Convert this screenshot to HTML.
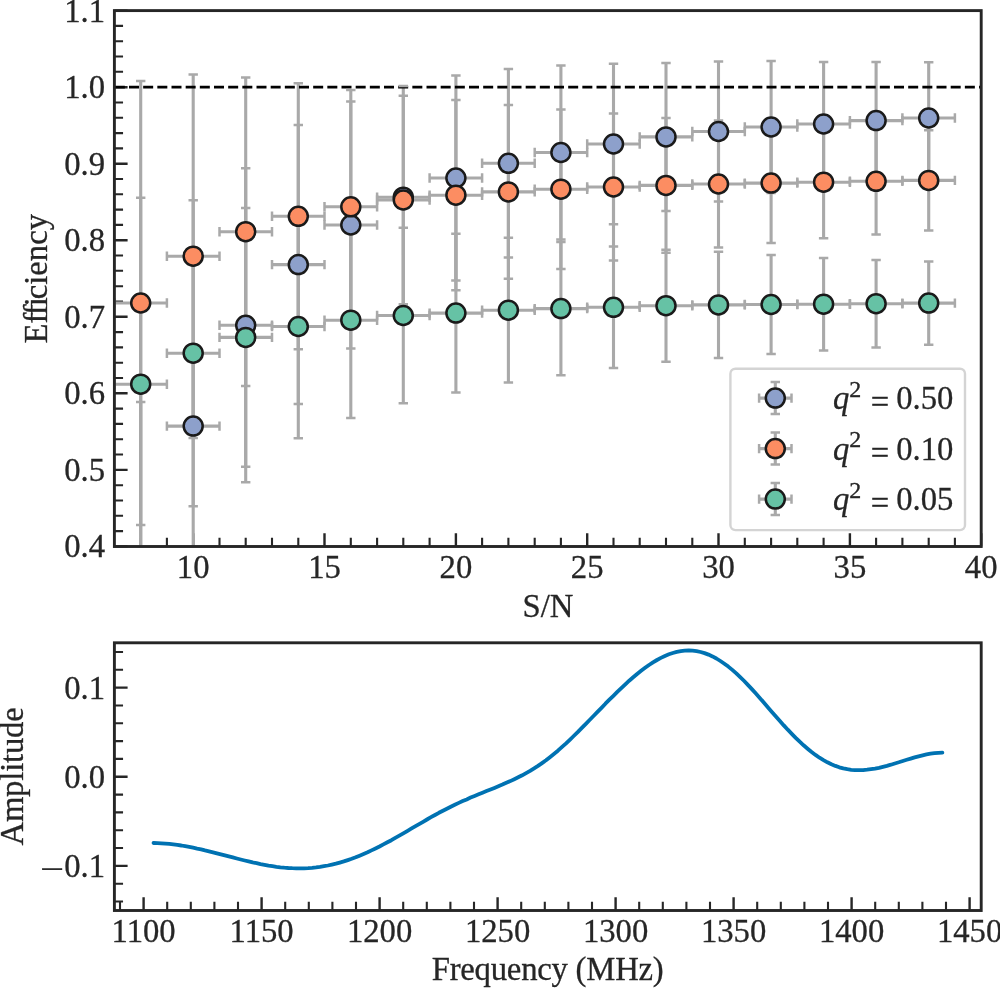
<!DOCTYPE html>
<html lang="en"><head><meta charset="utf-8"><title>Efficiency vs S/N</title>
<style>
html,body{margin:0;padding:0;background:#fff;}
body{width:1000px;height:988px;overflow:hidden;}
.t{font-family:"Liberation Serif","DejaVu Serif",serif;font-size:32.7px;fill:#262626;stroke:#262626;stroke-width:0.3px;}
</style></head><body>
<svg width="1000" height="988" viewBox="0 0 1000 988" style="display:block">
<rect x="0" y="0" width="1000" height="988" fill="#ffffff"/>
<defs><clipPath id="c1"><rect x="114.4" y="10.6" width="866.8" height="535.9"/></clipPath></defs>
<g stroke="#262626" fill="none">
<path stroke-width="2.1" d="M114.4 531.1h8.65M114.4 515.8h8.65M114.4 500.5h8.65M114.4 485.2h8.65M114.4 454.5h8.65M114.4 439.2h8.65M114.4 423.9h8.65M114.4 408.6h8.65M114.4 378.0h8.65M114.4 362.7h8.65M114.4 347.4h8.65M114.4 332.1h8.65M114.4 301.5h8.65M114.4 286.2h8.65M114.4 270.8h8.65M114.4 255.5h8.65M114.4 224.9h8.65M114.4 209.6h8.65M114.4 194.3h8.65M114.4 179.0h8.65M114.4 148.4h8.65M114.4 133.1h8.65M114.4 117.8h8.65M114.4 102.5h8.65M114.4 71.8h8.65M114.4 56.5h8.65M114.4 41.2h8.65M114.4 25.9h8.65M140.7 546.4v-8.65M166.9 546.4v-8.65M219.5 546.4v-8.65M245.7 546.4v-8.65M272.0 546.4v-8.65M298.3 546.4v-8.65M350.8 546.4v-8.65M377.1 546.4v-8.65M403.3 546.4v-8.65M429.6 546.4v-8.65M482.1 546.4v-8.65M508.4 546.4v-8.65M534.7 546.4v-8.65M560.9 546.4v-8.65M613.5 546.4v-8.65M639.7 546.4v-8.65M666.0 546.4v-8.65M692.3 546.4v-8.65M744.8 546.4v-8.65M771.1 546.4v-8.65M797.3 546.4v-8.65M823.6 546.4v-8.65M876.1 546.4v-8.65M902.4 546.4v-8.65M928.7 546.4v-8.65M954.9 546.4v-8.65"/>
<path stroke-width="2.4" d="M114.4 546.4h13.2M114.4 469.9h13.2M114.4 393.3h13.2M114.4 316.8h13.2M114.4 240.2h13.2M114.4 163.7h13.2M114.4 87.2h13.2M114.4 10.6h13.2M193.2 546.4v-13.2M324.5 546.4v-13.2M455.9 546.4v-13.2M587.2 546.4v-13.2M718.5 546.4v-13.2M849.9 546.4v-13.2M981.2 546.4v-13.2"/>
</g>
<g clip-path="url(#c1)">
<g stroke="#a9a9a9" stroke-width="3.1" fill="none">
<path d="M140.7 402.0V878.0"/>
<path d="M114.4 640.0H166.9"/>
<path d="M193.2 256.1V596.1"/>
<path d="M166.9 426.1H219.5"/>
<path d="M245.7 168.3V482.3"/>
<path d="M219.5 325.3H272.0"/>
<path d="M298.3 125.1V404.1"/>
<path d="M272.0 264.6H324.5"/>
<path d="M350.8 101.5V348.5"/>
<path d="M324.5 225.0H377.1"/>
<path d="M403.3 85.9V308.5"/>
<path d="M377.1 197.2H429.6"/>
<path d="M455.9 75.4V280.6"/>
<path d="M429.6 178.0H482.1"/>
<path d="M508.4 69.1V257.5"/>
<path d="M482.1 163.3H534.7"/>
<path d="M560.9 65.6V239.4"/>
<path d="M534.7 152.5H587.2"/>
<path d="M613.5 63.8V224.2"/>
<path d="M587.2 144.0H639.7"/>
<path d="M666.0 62.9V210.9"/>
<path d="M639.7 136.9H692.3"/>
<path d="M718.5 61.5V201.5"/>
<path d="M692.3 131.5H744.8"/>
<path d="M771.1 61.0V193.0"/>
<path d="M744.8 127.0H797.3"/>
<path d="M823.6 61.9V186.1"/>
<path d="M797.3 124.0H849.9"/>
<path d="M876.1 62.0V179.2"/>
<path d="M849.9 120.6H902.4"/>
<path d="M928.7 62.2V173.8"/>
<path d="M902.4 118.0H954.9"/>
<path d="M140.7 81.0V525.0"/>
<path d="M114.4 303.0H166.9"/>
<path d="M193.2 74.5V437.9"/>
<path d="M166.9 256.2H219.5"/>
<path d="M245.7 77.4V386.0"/>
<path d="M219.5 231.7H272.0"/>
<path d="M298.3 83.3V349.3"/>
<path d="M272.0 216.3H324.5"/>
<path d="M350.8 90.0V323.6"/>
<path d="M324.5 206.8H377.1"/>
<path d="M403.3 95.7V304.3"/>
<path d="M377.1 200.0H429.6"/>
<path d="M455.9 100.1V290.3"/>
<path d="M429.6 195.2H482.1"/>
<path d="M508.4 105.0V278.8"/>
<path d="M482.1 191.9H534.7"/>
<path d="M560.9 109.5V268.9"/>
<path d="M534.7 189.2H587.2"/>
<path d="M613.5 113.5V260.5"/>
<path d="M587.2 187.0H639.7"/>
<path d="M666.0 118.0V252.8"/>
<path d="M639.7 185.4H692.3"/>
<path d="M718.5 120.4V247.6"/>
<path d="M692.3 184.0H744.8"/>
<path d="M771.1 123.1V243.1"/>
<path d="M744.8 183.1H797.3"/>
<path d="M823.6 126.2V238.2"/>
<path d="M797.3 182.2H849.9"/>
<path d="M876.1 128.2V234.4"/>
<path d="M849.9 181.3H902.4"/>
<path d="M928.7 130.3V230.5"/>
<path d="M902.4 180.4H954.9"/>
<path d="M140.7 197.7V570.7"/>
<path d="M114.4 384.2H166.9"/>
<path d="M193.2 200.2V506.2"/>
<path d="M166.9 353.2H219.5"/>
<path d="M245.7 208.0V466.8"/>
<path d="M219.5 337.4H272.0"/>
<path d="M298.3 214.7V438.3"/>
<path d="M272.0 326.5H324.5"/>
<path d="M350.8 222.4V418.0"/>
<path d="M324.5 320.2H377.1"/>
<path d="M403.3 227.8V403.2"/>
<path d="M377.1 315.5H429.6"/>
<path d="M455.9 233.7V392.5"/>
<path d="M429.6 313.1H482.1"/>
<path d="M508.4 237.8V382.6"/>
<path d="M482.1 310.2H534.7"/>
<path d="M560.9 242.0V375.2"/>
<path d="M534.7 308.6H587.2"/>
<path d="M613.5 246.5V368.1"/>
<path d="M587.2 307.3H639.7"/>
<path d="M666.0 249.7V361.7"/>
<path d="M639.7 305.7H692.3"/>
<path d="M718.5 251.8V358.0"/>
<path d="M692.3 304.9H744.8"/>
<path d="M771.1 254.9V354.1"/>
<path d="M744.8 304.5H797.3"/>
<path d="M823.6 258.0V350.4"/>
<path d="M797.3 304.2H849.9"/>
<path d="M876.1 259.9V347.5"/>
<path d="M849.9 303.7H902.4"/>
<path d="M928.7 261.5V344.7"/>
<path d="M902.4 303.1H954.9"/>
</g>
<path d="M114.83 87.2H981.2" stroke="#000000" stroke-width="2.7" stroke-dasharray="10 4.167" fill="none"/>
<g stroke="#a9a9a9" stroke-width="2.5" fill="none">
<path d="M136.0 402.0h9.4M136.0 878.0h9.4M114.4 635.3v9.4M166.9 635.3v9.4"/>
<path d="M188.5 256.1h9.4M188.5 596.1h9.4M166.9 421.4v9.4M219.5 421.4v9.4"/>
<path d="M241.0 168.3h9.4M241.0 482.3h9.4M219.5 320.6v9.4M272.0 320.6v9.4"/>
<path d="M293.6 125.1h9.4M293.6 404.1h9.4M272.0 259.9v9.4M324.5 259.9v9.4"/>
<path d="M346.1 101.5h9.4M346.1 348.5h9.4M324.5 220.3v9.4M377.1 220.3v9.4"/>
<path d="M398.6 85.9h9.4M398.6 308.5h9.4M377.1 192.5v9.4M429.6 192.5v9.4"/>
<path d="M451.2 75.4h9.4M451.2 280.6h9.4M429.6 173.3v9.4M482.1 173.3v9.4"/>
<path d="M503.7 69.1h9.4M503.7 257.5h9.4M482.1 158.6v9.4M534.7 158.6v9.4"/>
<path d="M556.2 65.6h9.4M556.2 239.4h9.4M534.7 147.8v9.4M587.2 147.8v9.4"/>
<path d="M608.8 63.8h9.4M608.8 224.2h9.4M587.2 139.3v9.4M639.7 139.3v9.4"/>
<path d="M661.3 62.9h9.4M661.3 210.9h9.4M639.7 132.2v9.4M692.3 132.2v9.4"/>
<path d="M713.8 61.5h9.4M713.8 201.5h9.4M692.3 126.8v9.4M744.8 126.8v9.4"/>
<path d="M766.4 61.0h9.4M766.4 193.0h9.4M744.8 122.3v9.4M797.3 122.3v9.4"/>
<path d="M818.9 61.9h9.4M818.9 186.1h9.4M797.3 119.3v9.4M849.9 119.3v9.4"/>
<path d="M871.4 62.0h9.4M871.4 179.2h9.4M849.9 115.9v9.4M902.4 115.9v9.4"/>
<path d="M924.0 62.2h9.4M924.0 173.8h9.4M902.4 113.3v9.4M954.9 113.3v9.4"/>
<path d="M136.0 81.0h9.4M136.0 525.0h9.4M114.4 298.3v9.4M166.9 298.3v9.4"/>
<path d="M188.5 74.5h9.4M188.5 437.9h9.4M166.9 251.5v9.4M219.5 251.5v9.4"/>
<path d="M241.0 77.4h9.4M241.0 386.0h9.4M219.5 227.0v9.4M272.0 227.0v9.4"/>
<path d="M293.6 83.3h9.4M293.6 349.3h9.4M272.0 211.6v9.4M324.5 211.6v9.4"/>
<path d="M346.1 90.0h9.4M346.1 323.6h9.4M324.5 202.1v9.4M377.1 202.1v9.4"/>
<path d="M398.6 95.7h9.4M398.6 304.3h9.4M377.1 195.3v9.4M429.6 195.3v9.4"/>
<path d="M451.2 100.1h9.4M451.2 290.3h9.4M429.6 190.5v9.4M482.1 190.5v9.4"/>
<path d="M503.7 105.0h9.4M503.7 278.8h9.4M482.1 187.2v9.4M534.7 187.2v9.4"/>
<path d="M556.2 109.5h9.4M556.2 268.9h9.4M534.7 184.5v9.4M587.2 184.5v9.4"/>
<path d="M608.8 113.5h9.4M608.8 260.5h9.4M587.2 182.3v9.4M639.7 182.3v9.4"/>
<path d="M661.3 118.0h9.4M661.3 252.8h9.4M639.7 180.7v9.4M692.3 180.7v9.4"/>
<path d="M713.8 120.4h9.4M713.8 247.6h9.4M692.3 179.3v9.4M744.8 179.3v9.4"/>
<path d="M766.4 123.1h9.4M766.4 243.1h9.4M744.8 178.4v9.4M797.3 178.4v9.4"/>
<path d="M818.9 126.2h9.4M818.9 238.2h9.4M797.3 177.5v9.4M849.9 177.5v9.4"/>
<path d="M871.4 128.2h9.4M871.4 234.4h9.4M849.9 176.6v9.4M902.4 176.6v9.4"/>
<path d="M924.0 130.3h9.4M924.0 230.5h9.4M902.4 175.7v9.4M954.9 175.7v9.4"/>
<path d="M136.0 197.7h9.4M136.0 570.7h9.4M114.4 379.5v9.4M166.9 379.5v9.4"/>
<path d="M188.5 200.2h9.4M188.5 506.2h9.4M166.9 348.5v9.4M219.5 348.5v9.4"/>
<path d="M241.0 208.0h9.4M241.0 466.8h9.4M219.5 332.7v9.4M272.0 332.7v9.4"/>
<path d="M293.6 214.7h9.4M293.6 438.3h9.4M272.0 321.8v9.4M324.5 321.8v9.4"/>
<path d="M346.1 222.4h9.4M346.1 418.0h9.4M324.5 315.5v9.4M377.1 315.5v9.4"/>
<path d="M398.6 227.8h9.4M398.6 403.2h9.4M377.1 310.8v9.4M429.6 310.8v9.4"/>
<path d="M451.2 233.7h9.4M451.2 392.5h9.4M429.6 308.4v9.4M482.1 308.4v9.4"/>
<path d="M503.7 237.8h9.4M503.7 382.6h9.4M482.1 305.5v9.4M534.7 305.5v9.4"/>
<path d="M556.2 242.0h9.4M556.2 375.2h9.4M534.7 303.9v9.4M587.2 303.9v9.4"/>
<path d="M608.8 246.5h9.4M608.8 368.1h9.4M587.2 302.6v9.4M639.7 302.6v9.4"/>
<path d="M661.3 249.7h9.4M661.3 361.7h9.4M639.7 301.0v9.4M692.3 301.0v9.4"/>
<path d="M713.8 251.8h9.4M713.8 358.0h9.4M692.3 300.2v9.4M744.8 300.2v9.4"/>
<path d="M766.4 254.9h9.4M766.4 354.1h9.4M744.8 299.8v9.4M797.3 299.8v9.4"/>
<path d="M818.9 258.0h9.4M818.9 350.4h9.4M797.3 299.5v9.4M849.9 299.5v9.4"/>
<path d="M871.4 259.9h9.4M871.4 347.5h9.4M849.9 299.0v9.4M902.4 299.0v9.4"/>
<path d="M924.0 261.5h9.4M924.0 344.7h9.4M902.4 298.4v9.4M954.9 298.4v9.4"/>
</g>
<g stroke="#1a1a1a" stroke-width="2.5" fill="#8da0cb">
<circle cx="140.7" cy="640.0" r="9.5"/>
<circle cx="193.2" cy="426.1" r="9.5"/>
<circle cx="245.7" cy="325.3" r="9.5"/>
<circle cx="298.3" cy="264.6" r="9.5"/>
<circle cx="350.8" cy="225.0" r="9.5"/>
<circle cx="403.3" cy="197.2" r="9.5"/>
<circle cx="455.9" cy="178.0" r="9.5"/>
<circle cx="508.4" cy="163.3" r="9.5"/>
<circle cx="560.9" cy="152.5" r="9.5"/>
<circle cx="613.5" cy="144.0" r="9.5"/>
<circle cx="666.0" cy="136.9" r="9.5"/>
<circle cx="718.5" cy="131.5" r="9.5"/>
<circle cx="771.1" cy="127.0" r="9.5"/>
<circle cx="823.6" cy="124.0" r="9.5"/>
<circle cx="876.1" cy="120.6" r="9.5"/>
<circle cx="928.7" cy="118.0" r="9.5"/>
</g>
<g stroke="#1a1a1a" stroke-width="2.5" fill="#fc8d62">
<circle cx="140.7" cy="303.0" r="9.5"/>
<circle cx="193.2" cy="256.2" r="9.5"/>
<circle cx="245.7" cy="231.7" r="9.5"/>
<circle cx="298.3" cy="216.3" r="9.5"/>
<circle cx="350.8" cy="206.8" r="9.5"/>
<circle cx="403.3" cy="200.0" r="9.5"/>
<circle cx="455.9" cy="195.2" r="9.5"/>
<circle cx="508.4" cy="191.9" r="9.5"/>
<circle cx="560.9" cy="189.2" r="9.5"/>
<circle cx="613.5" cy="187.0" r="9.5"/>
<circle cx="666.0" cy="185.4" r="9.5"/>
<circle cx="718.5" cy="184.0" r="9.5"/>
<circle cx="771.1" cy="183.1" r="9.5"/>
<circle cx="823.6" cy="182.2" r="9.5"/>
<circle cx="876.1" cy="181.3" r="9.5"/>
<circle cx="928.7" cy="180.4" r="9.5"/>
</g>
<g stroke="#1a1a1a" stroke-width="2.5" fill="#66c2a5">
<circle cx="140.7" cy="384.2" r="9.5"/>
<circle cx="193.2" cy="353.2" r="9.5"/>
<circle cx="245.7" cy="337.4" r="9.5"/>
<circle cx="298.3" cy="326.5" r="9.5"/>
<circle cx="350.8" cy="320.2" r="9.5"/>
<circle cx="403.3" cy="315.5" r="9.5"/>
<circle cx="455.9" cy="313.1" r="9.5"/>
<circle cx="508.4" cy="310.2" r="9.5"/>
<circle cx="560.9" cy="308.6" r="9.5"/>
<circle cx="613.5" cy="307.3" r="9.5"/>
<circle cx="666.0" cy="305.7" r="9.5"/>
<circle cx="718.5" cy="304.9" r="9.5"/>
<circle cx="771.1" cy="304.5" r="9.5"/>
<circle cx="823.6" cy="304.2" r="9.5"/>
<circle cx="876.1" cy="303.7" r="9.5"/>
<circle cx="928.7" cy="303.1" r="9.5"/>
</g>
</g>
<g stroke="#262626" fill="none">
<rect x="114.4" y="10.6" width="866.8" height="535.9" stroke-width="2.9"/>
</g>
<rect x="730.4" y="368.7" width="234.6" height="161.4" rx="5" ry="5" fill="#ffffff" fill-opacity="0.8" stroke="#d4d4d4" stroke-width="2.4"/>
<g stroke="#a9a9a9" fill="none"><path stroke-width="3.1" d="M759.0999999999999 398.1H791.5M775.3 382.1V414.1"/><path stroke-width="2.5" d="M759.0999999999999 393.40000000000003v9.4M791.5 393.40000000000003v9.4M770.5999999999999 382.1h9.4M770.5999999999999 414.1h9.4"/></g>
<circle cx="775.3" cy="398.1" r="9.5" fill="#8da0cb" stroke="#1a1a1a" stroke-width="2.5"/>
<text x="833" y="409.4" class="t"><tspan font-style="italic">q</tspan><tspan dy="-12.6" font-size="24">2</tspan><tspan dy="16.4" dx="1.2"> = </tspan><tspan dy="-3.8" dx="-1.2">0.50</tspan></text>
<g stroke="#a9a9a9" fill="none"><path stroke-width="3.1" d="M759.0999999999999 448.6H791.5M775.3 432.6V464.6"/><path stroke-width="2.5" d="M759.0999999999999 443.90000000000003v9.4M791.5 443.90000000000003v9.4M770.5999999999999 432.6h9.4M770.5999999999999 464.6h9.4"/></g>
<circle cx="775.3" cy="448.6" r="9.5" fill="#fc8d62" stroke="#1a1a1a" stroke-width="2.5"/>
<text x="833" y="459.9" class="t"><tspan font-style="italic">q</tspan><tspan dy="-12.6" font-size="24">2</tspan><tspan dy="16.4" dx="1.2"> = </tspan><tspan dy="-3.8" dx="-1.2">0.10</tspan></text>
<g stroke="#a9a9a9" fill="none"><path stroke-width="3.1" d="M759.0999999999999 499.1H791.5M775.3 483.1V515.1"/><path stroke-width="2.5" d="M759.0999999999999 494.40000000000003v9.4M791.5 494.40000000000003v9.4M770.5999999999999 483.1h9.4M770.5999999999999 515.1h9.4"/></g>
<circle cx="775.3" cy="499.1" r="9.5" fill="#66c2a5" stroke="#1a1a1a" stroke-width="2.5"/>
<text x="833" y="510.4" class="t"><tspan font-style="italic">q</tspan><tspan dy="-12.6" font-size="24">2</tspan><tspan dy="16.4" dx="1.2"> = </tspan><tspan dy="-3.8" dx="-1.2">0.05</tspan></text>
<text x="105" y="557.4" text-anchor="end" class="t">0.4</text>
<text x="105" y="480.9" text-anchor="end" class="t">0.5</text>
<text x="105" y="404.3" text-anchor="end" class="t">0.6</text>
<text x="105" y="327.8" text-anchor="end" class="t">0.7</text>
<text x="105" y="251.2" text-anchor="end" class="t">0.8</text>
<text x="105" y="174.7" text-anchor="end" class="t">0.9</text>
<text x="105" y="98.2" text-anchor="end" class="t">1.0</text>
<text x="105" y="21.6" text-anchor="end" class="t">1.1</text>
<text x="193.2" y="578" text-anchor="middle" class="t">10</text>
<text x="324.5" y="578" text-anchor="middle" class="t">15</text>
<text x="455.9" y="578" text-anchor="middle" class="t">20</text>
<text x="587.2" y="578" text-anchor="middle" class="t">25</text>
<text x="718.5" y="578" text-anchor="middle" class="t">30</text>
<text x="849.9" y="578" text-anchor="middle" class="t">35</text>
<text x="981.2" y="578" text-anchor="middle" class="t">40</text>
<text x="548" y="617" text-anchor="middle" class="t">S/N</text>
<text transform="translate(47,278.7) rotate(-90)" text-anchor="middle" class="t">E<tspan letter-spacing="-2">ffi</tspan>ciency</text>
<path d="M153.5 843.0 157.5 843.1 161.4 843.3 165.4 843.6 169.4 843.9 173.3 844.4 177.3 844.9 181.3 845.5 185.2 846.2 189.2 846.9 193.1 847.7 197.1 848.6 201.1 849.4 205.0 850.4 209.0 851.3 213.0 852.3 216.9 853.3 220.9 854.3 224.9 855.4 228.8 856.4 232.8 857.4 236.8 858.5 240.7 859.5 244.7 860.5 248.6 861.4 252.6 862.4 256.6 863.2 260.5 864.1 264.5 864.8 268.5 865.6 272.4 866.2 276.4 866.8 280.4 867.3 284.3 867.7 288.3 868.0 292.3 868.2 296.2 868.3 300.2 868.3 304.1 868.3 308.1 868.1 312.1 867.8 316.0 867.4 320.0 866.9 324.0 866.2 327.9 865.5 331.9 864.6 335.9 863.7 339.8 862.6 343.8 861.4 347.8 860.1 351.7 858.8 355.7 857.3 359.6 855.7 363.6 854.0 367.6 852.3 371.5 850.4 375.5 848.5 379.5 846.5 383.4 844.4 387.4 842.3 391.4 840.2 395.3 837.9 399.3 835.7 403.3 833.4 407.2 831.1 411.2 828.7 415.1 826.4 419.1 824.1 423.1 821.8 427.0 819.5 431.0 817.2 435.0 815.0 438.9 812.8 442.9 810.7 446.9 808.7 450.8 806.7 454.8 804.8 458.8 802.9 462.7 801.1 466.7 799.4 470.6 797.6 474.6 796.0 478.6 794.3 482.5 792.7 486.5 791.1 490.5 789.5 494.4 787.9 498.4 786.2 502.4 784.6 506.3 782.8 510.3 781.1 514.3 779.2 518.2 777.3 522.2 775.3 526.1 773.1 530.1 770.9 534.1 768.4 538.0 765.9 542.0 763.1 546.0 760.3 549.9 757.2 553.9 754.0 557.9 750.7 561.8 747.2 565.8 743.6 569.8 739.8 573.7 736.0 577.7 732.1 581.6 728.1 585.6 724.1 589.6 720.0 593.5 716.0 597.5 711.9 601.5 707.8 605.4 703.7 609.4 699.7 613.4 695.8 617.3 691.9 621.3 688.1 625.3 684.3 629.2 680.7 633.2 677.3 637.1 674.0 641.1 670.8 645.1 667.8 649.0 665.0 653.0 662.4 657.0 660.0 660.9 657.9 664.9 656.0 668.9 654.3 672.8 653.0 676.8 651.9 680.8 651.1 684.7 650.6 688.7 650.5 692.6 650.7 696.6 651.2 700.6 652.0 704.5 653.1 708.5 654.6 712.5 656.4 716.4 658.5 720.4 661.0 724.4 663.7 728.3 666.6 732.3 669.9 736.3 673.4 740.2 677.1 744.2 681.0 748.1 685.1 752.1 689.4 756.1 693.8 760.0 698.2 764.0 702.8 768.0 707.4 771.9 711.9 775.9 716.5 779.9 721.0 783.8 725.4 787.8 729.7 791.8 733.8 795.7 737.8 799.7 741.7 803.6 745.3 807.6 748.7 811.6 752.0 815.5 754.9 819.5 757.7 823.5 760.1 827.4 762.3 831.4 764.3 835.4 765.9 839.3 767.3 843.3 768.4 847.3 769.2 851.2 769.8 855.2 770.1 859.1 770.2 863.1 770.1 867.1 769.7 871.0 769.2 875.0 768.6 879.0 767.8 882.9 766.8 886.9 765.8 890.9 764.7 894.8 763.5 898.8 762.3 902.8 761.0 906.7 759.8 910.7 758.6 914.6 757.4 918.6 756.3 922.6 755.3 926.5 754.4 930.5 753.7 934.5 753.2 938.4 752.8 942.4 752.7" fill="none" stroke="#0072b2" stroke-width="3.8" stroke-linecap="round" stroke-linejoin="round"/>
<g stroke="#262626" fill="none">
<path stroke-width="2.1" d="M114.4 901.5h8.65M114.4 883.7h8.65M114.4 848.0h8.65M114.4 830.2h8.65M114.4 812.4h8.65M114.4 794.6h8.65M114.4 758.9h8.65M114.4 741.1h8.65M114.4 723.3h8.65M114.4 705.5h8.65M114.4 669.8h8.65M114.4 652.0h8.65M120.0 910.5v-8.65M167.2 910.5v-8.65M190.8 910.5v-8.65M214.4 910.5v-8.65M238.0 910.5v-8.65M285.2 910.5v-8.65M308.8 910.5v-8.65M332.4 910.5v-8.65M356.0 910.5v-8.65M403.2 910.5v-8.65M426.8 910.5v-8.65M450.4 910.5v-8.65M474.0 910.5v-8.65M521.2 910.5v-8.65M544.8 910.5v-8.65M568.4 910.5v-8.65M592.0 910.5v-8.65M639.2 910.5v-8.65M662.8 910.5v-8.65M686.4 910.5v-8.65M710.0 910.5v-8.65M757.2 910.5v-8.65M780.8 910.5v-8.65M804.4 910.5v-8.65M828.0 910.5v-8.65M875.2 910.5v-8.65M898.8 910.5v-8.65M922.4 910.5v-8.65M946.0 910.5v-8.65"/>
<path stroke-width="2.4" d="M114.4 865.9h13.2M114.4 776.8h13.2M114.4 687.6h13.2M143.6 910.5v-13.2M261.6 910.5v-13.2M379.6 910.5v-13.2M497.6 910.5v-13.2M615.6 910.5v-13.2M733.6 910.5v-13.2M851.6 910.5v-13.2M969.6 910.5v-13.2"/>
<rect x="114.4" y="642.8" width="866.8" height="267.7" stroke-width="2.9"/>
</g>
<text x="105" y="876.9" text-anchor="end" class="t">0.1</text>
<text x="105" y="787.8" text-anchor="end" class="t">0.0</text>
<text x="105" y="698.6" text-anchor="end" class="t">0.1</text>
<text transform="translate(64,879.8) scale(1.30,1)" text-anchor="end" class="t">−</text>
<text x="143.6" y="942" text-anchor="middle" class="t">1100</text>
<text x="261.6" y="942" text-anchor="middle" class="t">1150</text>
<text x="379.6" y="942" text-anchor="middle" class="t">1200</text>
<text x="497.6" y="942" text-anchor="middle" class="t">1250</text>
<text x="615.6" y="942" text-anchor="middle" class="t">1300</text>
<text x="733.6" y="942" text-anchor="middle" class="t">1350</text>
<text x="851.6" y="942" text-anchor="middle" class="t">1400</text>
<text x="969.6" y="942" text-anchor="middle" class="t">1450</text>
<text x="547.6" y="980" text-anchor="middle" class="t" letter-spacing="-0.22">Frequency (MHz)</text>
<text transform="translate(22.5,776.5) rotate(-90)" text-anchor="middle" class="t" letter-spacing="-0.2">Amplitude</text>
</svg>
</body></html>
